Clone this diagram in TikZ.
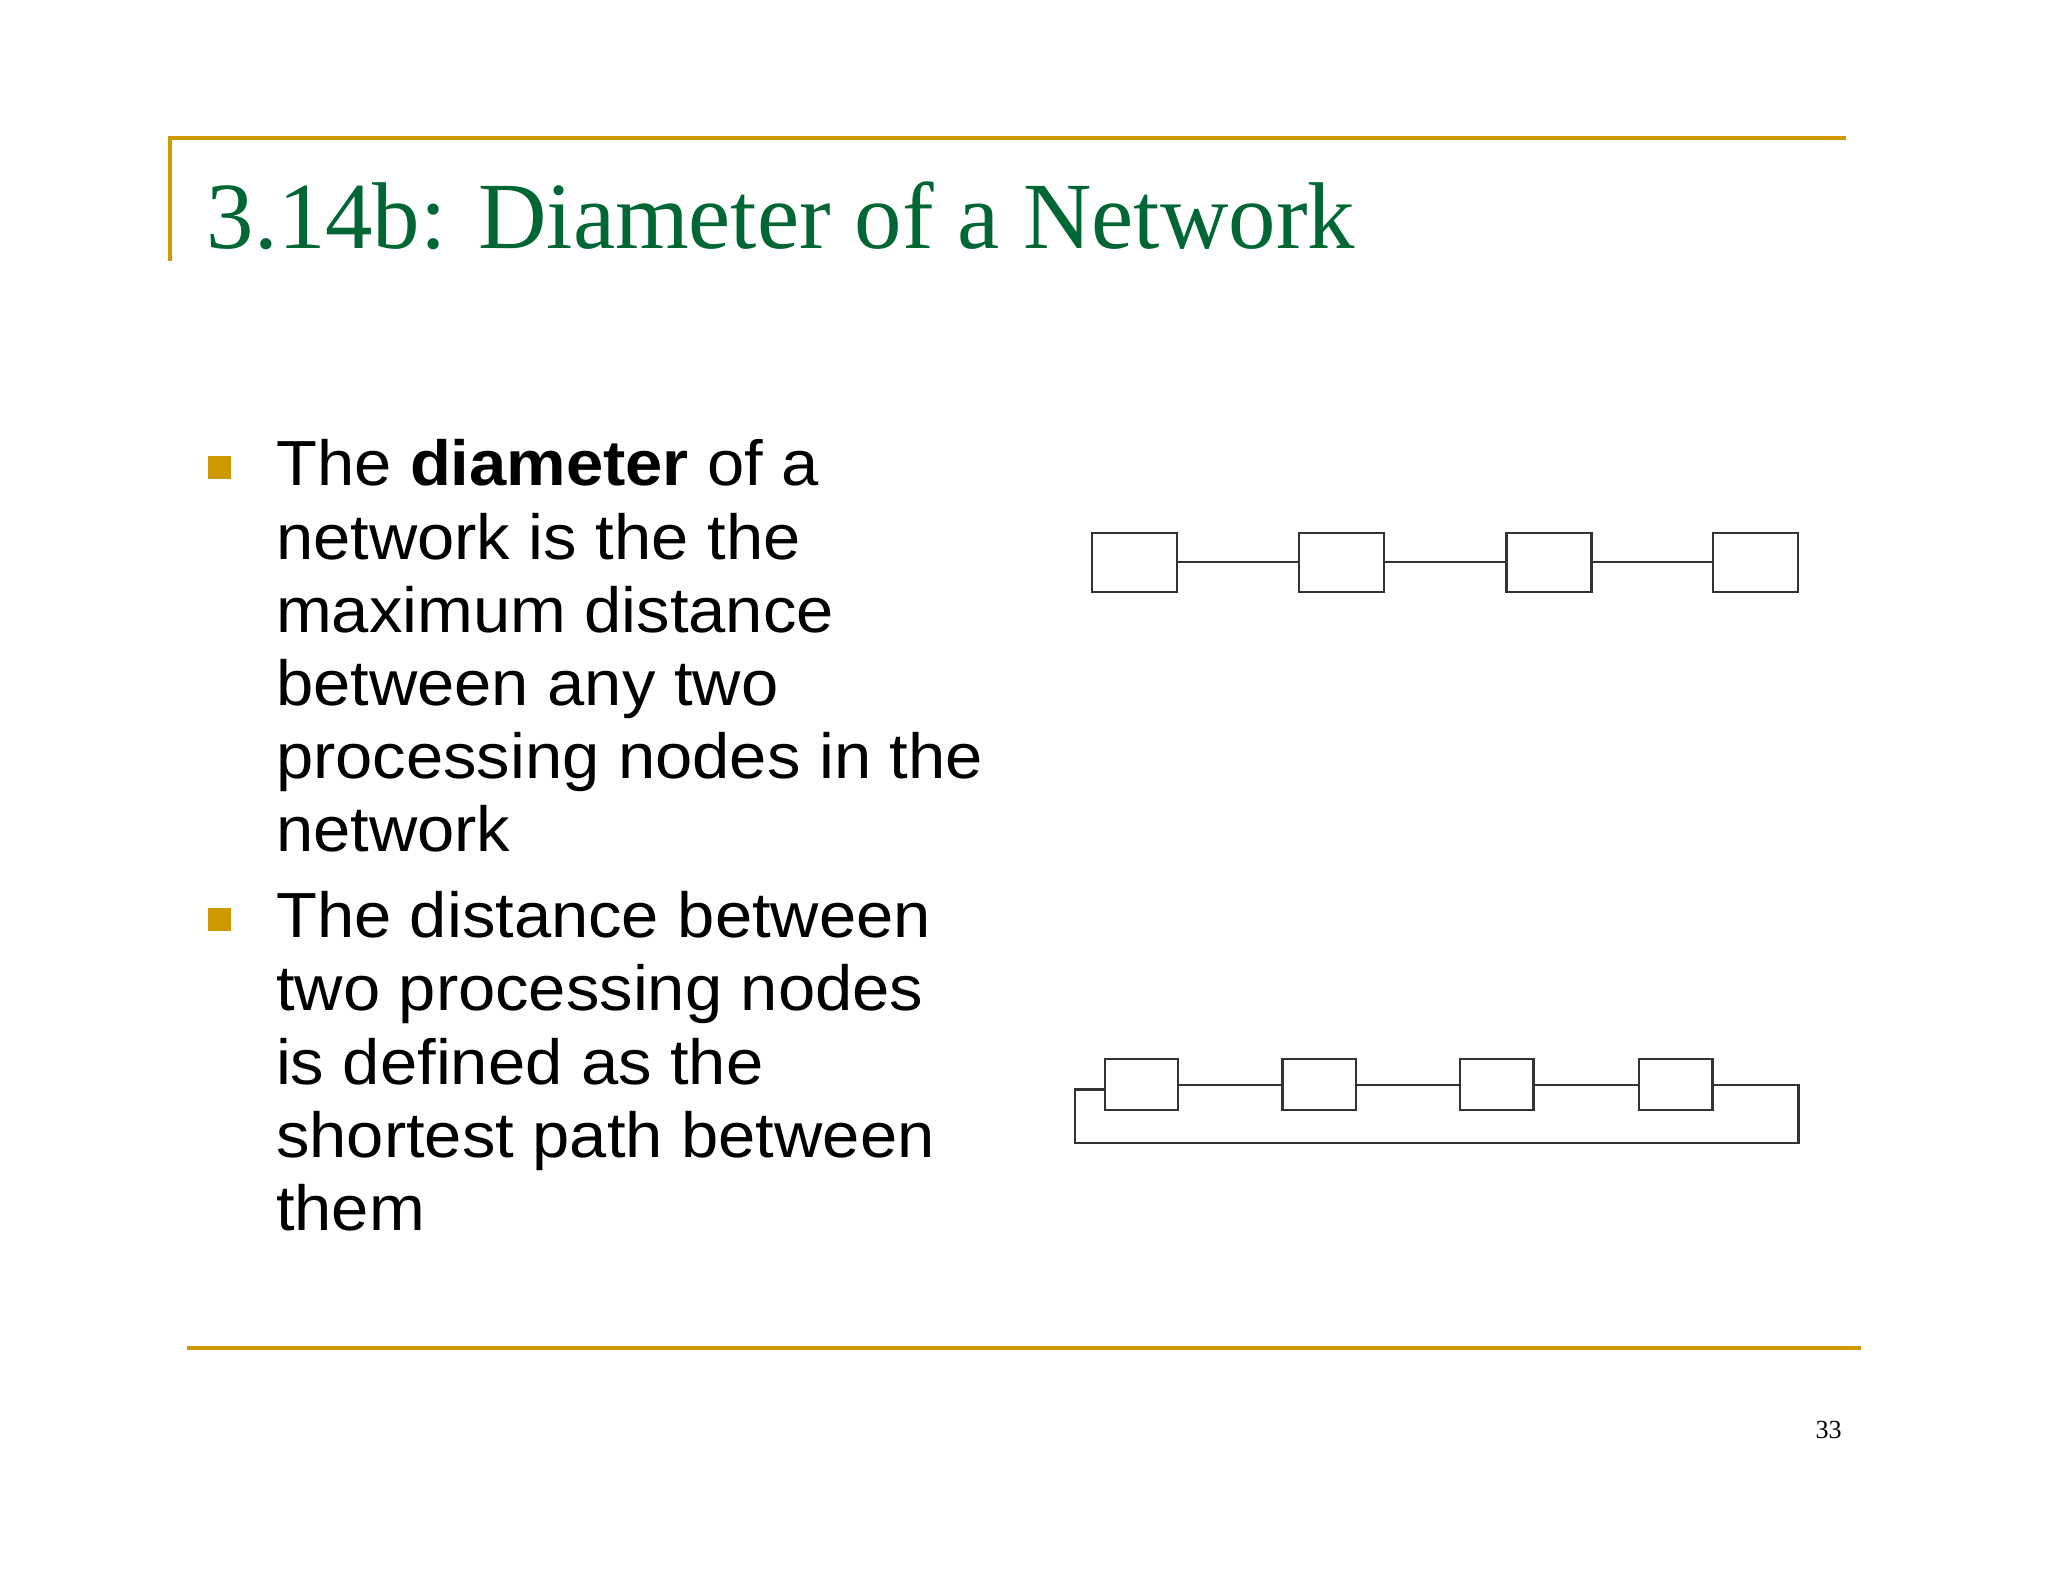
\documentclass[tikz,border=0pt]{standalone}
\usepackage{fontspec}
\setmainfont{Liberation Sans}[FakeStretch=1.05]
\newfontfamily\serifx{Liberation Serif}
\definecolor{gold}{HTML}{CC9900}
\definecolor{ttl}{HTML}{006633}
\begin{document}
\begin{tikzpicture}[x=0.5pt,y=-0.5pt,
  tl/.style={anchor=base west,inner sep=0pt,font=\fontsize{24.4}{28}\selectfont},
  pbox/.style={draw=black!80,line width=0.9pt,inner sep=0pt,minimum width=32.5pt,minimum height=22.5pt},
  qbox/.style={draw=black!80,line width=0.9pt,inner sep=0pt,minimum width=28pt,minimum height=19.5pt},
  lnk/.style={draw=black!80,line width=0.9pt}]
\useasboundingbox (0,0) rectangle (1568,1211);
\draw[gold,line width=1.5pt] (130,200) -- (130,106) -- (1413,106);
\draw[gold,line width=1.5pt] (143,1032) -- (1425,1032);
\node[anchor=base west,inner sep=0pt,text=ttl,font=\serifx\fontsize{36.3}{40}\selectfont] (title) at (158,190) {3.14b: Diameter of a Network};
\node[anchor=base,inner sep=0pt,font=\serifx\fontsize{10}{12}\selectfont] (pg) at (1400,1101) {33};
\fill[gold] (159,349) rectangle (177,367);
\fill[gold] (159,695) rectangle (177,713);
\node[tl] (l1) at (211,372) {The \textbf{diameter} of a};
\node[tl] (l2) at (211,428) {network is the the};
\node[tl] (l3) at (211,484) {maximum distance};
\node[tl] (l4) at (211,540) {between any two};
\node[tl] (l5) at (211,596) {processing nodes in the};
\node[tl] (l6) at (211,652) {network};
\node[tl] (m1) at (211,718) {The distance between};
\node[tl] (m2) at (211,774) {two processing nodes};
\node[tl] (m3) at (211,830) {is defined as the};
\node[tl] (m4) at (211,886) {shortest path between};
\node[tl] (m5) at (211,942) {them};
% linear array
\node[pbox] (a1) at (868.5,430.5) {};
\node[pbox] (a2) at (1027,430.5) {};
\node[pbox] (a3) at (1186,430.5) {};
\node[pbox] (a4) at (1344,430.5) {};
\draw[lnk] (a1) -- (a2) (a2) -- (a3) (a3) -- (a4);
% ring
\node[qbox] (b1) at (874,830.5) {};
\node[qbox] (b2) at (1010,830.5) {};
\node[qbox] (b3) at (1146,830.5) {};
\node[qbox] (b4) at (1283,830.5) {};
\draw[lnk] (b1) -- (b2) (b2) -- (b3) (b3) -- (b4);
\draw[lnk] (b4.east) -- (1377,830.5) -- (1377,875) -- (823,875) -- (823,834) -- (b1.west |- 0,834);
\end{tikzpicture}
\end{document}
